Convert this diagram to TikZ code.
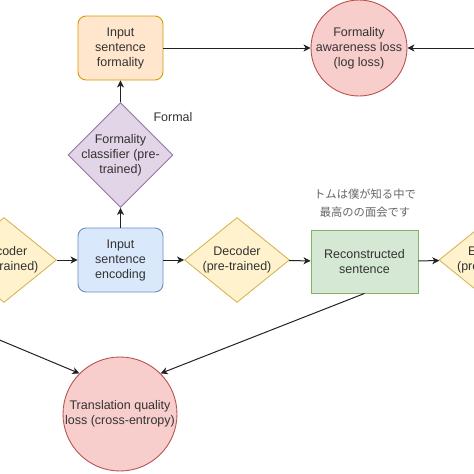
\documentclass[tikz,border=0pt]{standalone}
\usepackage{fontspec}
\setmainfont{Liberation Sans}
\newfontfamily\jpfont{Noto Sans CJK JP}
\usepackage{tikz}
\usetikzlibrary{arrows.meta,shapes}
\usepgflibrary{shapes.geometric}

\definecolor{txt}{HTML}{333333}
\definecolor{lne}{HTML}{222222}
\definecolor{orfill}{HTML}{FFE6CC}
\definecolor{orline}{HTML}{D79B00}
\definecolor{pufill}{HTML}{E1D5E7}
\definecolor{puline}{HTML}{9673A6}
\definecolor{blfill}{HTML}{DAE8FC}
\definecolor{blline}{HTML}{6C8EBF}
\definecolor{yefill}{HTML}{FFF2CC}
\definecolor{yeline}{HTML}{D6B656}
\definecolor{grfill}{HTML}{D5E8D4}
\definecolor{grline}{HTML}{82B366}
\definecolor{rdfill}{HTML}{F8CECC}
\definecolor{rdline}{HTML}{B85450}

\begin{document}
\begin{tikzpicture}[x=1pt,y=-1pt,
	every node/.style={font=\fontsize{12.5}{15}\selectfont, text=txt, align=center, line width=0.9pt},
	box/.style={rectangle, rounded corners=8pt, minimum width=85pt, minimum height=64pt, inner sep=0pt},
	dia/.style={diamond, inner sep=-15pt, minimum width=105pt, minimum height=85pt},
	loss/.style={circle, draw=rdline, fill=rdfill, inner sep=-12pt},
	arr/.style={line width=1pt, draw=lne, -{Stealth[length=7pt,width=7pt,inset=2pt]}}]
	
	\useasboundingbox (0,0) rectangle (474,474);
	\clip (0,0) rectangle (474,474);
	
	\node[box, draw=orline, fill=orfill] (form) at (120.5,48) {Input\\sentence\\formality};
	\node[loss, minimum size=96pt] (aw) at (359,48) {Formality\\awareness loss\\(log loss)};
	\node[dia, draw=puline, fill=pufill, minimum height=105pt] (cls) at (120.5,155) {Formality\\classifier (pre-\\trained)};
	\node (formal) at (173,117) {Formal};
	
	\node[box, draw=blline, fill=blfill] (enc) at (120.5,260) {Input\\sentence\\encoding};
	\node[dia, draw=yeline, fill=yefill] (encl) at (4,260) {Encoder\\(pre-trained)};
	\node[dia, draw=yeline, fill=yefill] (dec) at (237,260) {Decoder\\(pre-trained)};
	\node[rectangle, draw=grline, fill=grfill, minimum width=107pt, minimum height=63pt, inner sep=0pt] (rec) at (364.5,261.5) {Reconstructed\\sentence};
	\node[dia, draw=yeline, fill=yefill] (encr) at (491.5,260) {Encoder\\(pre-trained)};
	\node[font=\jpfont\fontsize{11.3}{18}\selectfont, text=black!60] (jp) at (365,203) {トムは僕が知る中で\\最高のの面会です};
	
	\node[loss, minimum size=114pt] (tq) at (120,414) {Translation quality\\loss (cross-entropy)};
	
	\coordinate (rin) at (480,48);
	\coordinate (lin) at (-10,336);
	
	\draw[arr] (form) -- (aw);
	\draw[arr] (rin) -- (aw);
	\draw[arr] (cls) -- (form);
	\draw[arr] (enc) -- (cls);
	\draw[arr] (encl) -- (enc);
	\draw[arr] (enc) -- (dec);
	\draw[arr] (dec) -- (rec);
	\draw[arr] (rec) -- (encr);
	\draw[arr] (lin) -- (tq.135);
	\draw[arr] (rec.south) -- (tq.45);
	
\end{tikzpicture}
\end{document}
